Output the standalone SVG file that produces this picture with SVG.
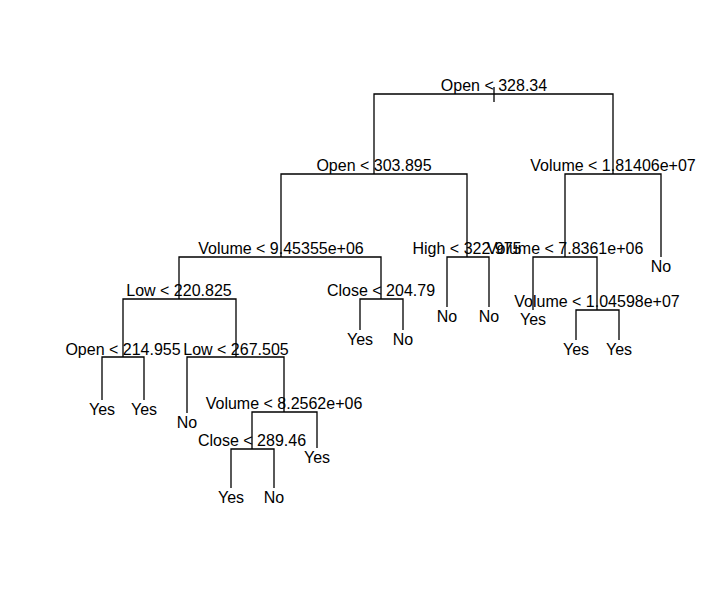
<svg xmlns="http://www.w3.org/2000/svg" width="725" height="600" viewBox="0 0 725 600">
<style>
.e{fill:none;stroke:#000;stroke-width:1.3}
text{font-family:"Liberation Sans",Arial,sans-serif;font-size:16px;fill:#000;text-anchor:middle}
</style>
<rect width="725" height="600" fill="#fff"/>
<g id="connectors">
<path class="e" d="M494 87V102"/>
<path class="e" d="M374 174V94H613V174"/>
<path class="e" d="M281 257V174H467V257"/>
<path class="e" d="M565 257V174H661V257"/>
<path class="e" d="M179 299V257H381V299"/>
<path class="e" d="M447 307V257H489V307"/>
<path class="e" d="M533 310V257H597V310"/>
<path class="e" d="M123 357V299H236V357"/>
<path class="e" d="M360 330V299H403V330"/>
<path class="e" d="M576 340V310H619V340"/>
<path class="e" d="M102 400V357H144V400"/>
<path class="e" d="M187 413V357H284V412"/>
<path class="e" d="M252 449V412H317V448"/>
<path class="e" d="M231 488V449H274V488"/>
</g>
<g id="n-root"><text x="494" y="91">Open &lt; 328.34</text></g>
<g id="n-a"><text x="374" y="171">Open &lt; 303.895</text></g>
<g id="n-b"><text x="613" y="171">Volume &lt; 1.81406e+07</text></g>
<g id="n-c"><text x="281" y="254">Volume &lt; 9.45355e+06</text></g>
<g id="n-d"><text x="467" y="254">High &lt; 322.975</text></g>
<g id="n-e"><text x="565" y="254">Volume &lt; 7.8361e+06</text></g>
<g id="n-f"><text x="179" y="296">Low &lt; 220.825</text></g>
<g id="n-g"><text x="381" y="296">Close &lt; 204.79</text></g>
<g id="n-h"><text x="597" y="307">Volume &lt; 1.04598e+07</text></g>
<g id="n-i"><text x="123" y="355">Open &lt; 214.955</text></g>
<g id="n-j"><text x="236" y="355">Low &lt; 267.505</text></g>
<g id="n-k"><text x="284" y="409">Volume &lt; 8.2562e+06</text></g>
<g id="n-l"><text x="252" y="446">Close &lt; 289.46</text></g>
<g id="leaf-d1"><text x="447" y="322">No</text></g>
<g id="leaf-d2"><text x="489" y="322">No</text></g>
<g id="leaf-e1"><text x="533" y="325">Yes</text></g>
<g id="leaf-b2"><text x="661" y="272">No</text></g>
<g id="leaf-h1"><text x="576" y="355">Yes</text></g>
<g id="leaf-h2"><text x="619" y="355">Yes</text></g>
<g id="leaf-g1"><text x="360" y="345">Yes</text></g>
<g id="leaf-g2"><text x="403" y="345">No</text></g>
<g id="leaf-i1"><text x="102" y="415">Yes</text></g>
<g id="leaf-i2"><text x="144" y="415">Yes</text></g>
<g id="leaf-j1"><text x="187" y="428">No</text></g>
<g id="leaf-k2"><text x="317" y="463">Yes</text></g>
<g id="leaf-l1"><text x="231" y="503">Yes</text></g>
<g id="leaf-l2"><text x="274" y="503">No</text></g>
</svg>
